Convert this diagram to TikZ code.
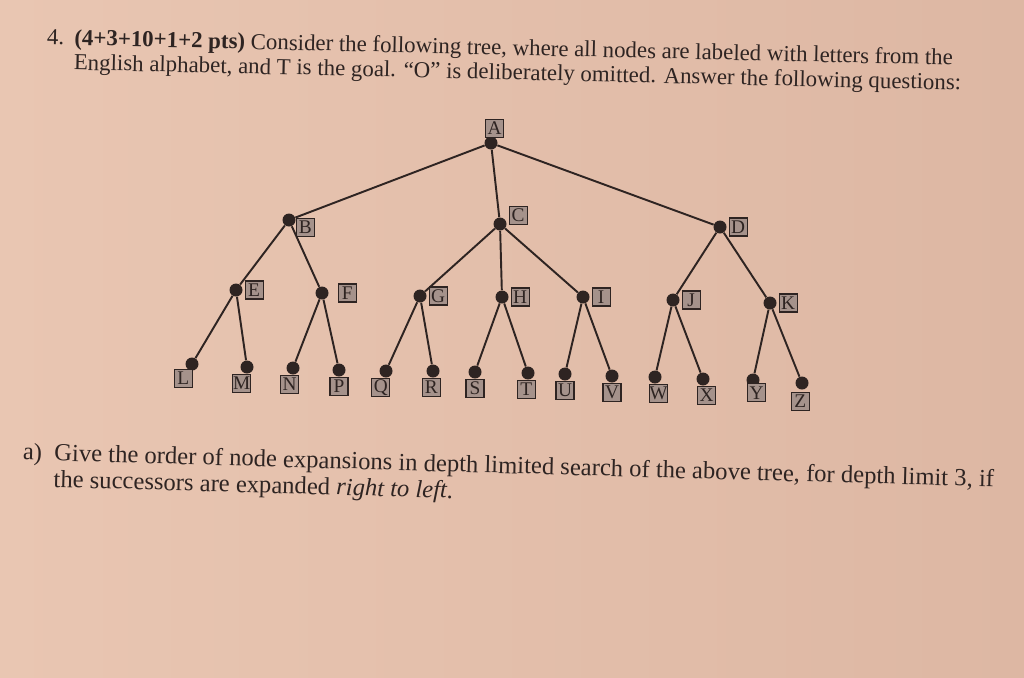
\documentclass[tikz,border=0pt]{standalone}
\usepackage{fontspec}
\setmainfont{Liberation Serif}
\usepackage{xcolor}
\definecolor{ink}{HTML}{2E2422}
\definecolor{lblgray}{HTML}{A5928B}
\definecolor{paperL}{HTML}{E9C6B2}
\definecolor{paperM}{HTML}{EFD6C8}
\definecolor{paperR}{HTML}{DDB7A3}
\usepackage{tikz}
\usetikzlibrary{positioning}

\begin{document}
\begin{tikzpicture}[
        x=0.02cm, y=-0.02cm,
        dot/.style={circle, fill=ink, inner sep=0pt, minimum size=0.26cm},
        lbl/.style={draw=ink, line width=0.6pt, fill=lblgray, inner sep=0pt, minimum size=0.36cm, text=ink, font=\fontsize{11}{11}\selectfont},
        edge/.style={draw=ink, line width=1.1pt},
        para/.style={align=left, text=ink, inner sep=0pt},
    ]

    % === Paper ===
    \shade[left color=paperL, middle color=paperM, right color=paperR] (0,0) rectangle (1024,677);
    \useasboundingbox (0,0) rectangle (1024,677);

    % === Question text ===
    \node[para, anchor=north west, rotate=-1.3, font=\fontsize{13}{14}\selectfont] (question) at (47,27) {
        \begin{tabular}{@{}l@{\hspace{0.45em}}l@{}}
        4. & \textbf{(4+3+10+1+2 pts)} Consider the following tree, where all nodes are labeled with letters from the\\
           & English alphabet, and T is the goal. “O” is deliberately omitted. Answer the following questions:
        \end{tabular}
    };

    % === Level 0 and 1 ===
    \node[dot] (A) at (491,143) {};
    \node[lbl, above=-1pt of A, xshift=2pt] (lA) {A};
    \node[dot] (B) at (289,220) {};
    \node[lbl, right=0pt of B, yshift=-4pt] (lB) {B};
    \node[dot] (C) at (500,224) {};
    \node[lbl, right=1pt of C, yshift=5pt] (lC) {C};
    \node[dot] (D) at (720,227) {};
    \node[lbl, right=1pt of D] (lD) {D};

    % === Level 2 ===
    \node[dot] (E) at (236,290) {};
    \node[lbl, right=1pt of E] (lE) {E};
    \node[dot] (F) at (322,293) {};
    \node[lbl, right=5pt of F] (lF) {F};
    \node[dot] (G) at (420,296) {};
    \node[lbl, right=1pt of G] (lG) {G};
    \node[dot] (H) at (502,297) {};
    \node[lbl, right=1pt of H] (lH) {H};
    \node[dot] (I) at (583,297) {};
    \node[lbl, right=1pt of I] (lI) {I};
    \node[dot] (J) at (673,300) {};
    \node[lbl, right=1pt of J] (lJ) {J};
    \node[dot] (K) at (770,303) {};
    \node[lbl, right=1pt of K] (lK) {K};

    % === Level 3 (leaves) ===
    \node[dot] (L) at (192,364) {};
    \node[lbl, below=-1pt of L, xshift=-5pt] (lL) {L};
    \node[dot] (M) at (247,367) {};
    \node[lbl, below=0pt of M, xshift=-3pt] (lM) {M};
    \node[dot] (N) at (293,368) {};
    \node[lbl, below=0pt of N, xshift=-2pt] (lN) {N};
    \node[dot] (P) at (339,370) {};
    \node[lbl, below=0pt of P] (lP) {P};
    \node[dot] (Q) at (386,371) {};
    \node[lbl, below=0pt of Q, xshift=-3pt] (lQ) {Q};
    \node[dot] (R) at (433,371) {};
    \node[lbl, below=0pt of R, xshift=-1pt] (lR) {R};
    \node[dot] (S) at (475,372) {};
    \node[lbl, below=0pt of S] (lS) {S};
    \node[dot] (T) at (528,373) {};
    \node[lbl, below=0pt of T, xshift=-1pt] (lT) {T};
    \node[dot] (U) at (565,374) {};
    \node[lbl, below=0pt of U] (lU) {U};
    \node[dot] (V) at (612,376) {};
    \node[lbl, below=0pt of V] (lV) {V};
    \node[dot] (W) at (655,377) {};
    \node[lbl, below=0pt of W, xshift=2pt] (lW) {W};
    \node[dot] (X) at (703,379) {};
    \node[lbl, below=0pt of X, xshift=2pt] (lX) {X};
    \node[dot] (Y) at (753,380) {};
    \node[lbl, below=-2pt of Y, xshift=2pt] (lY) {Y};
    \node[dot] (Z) at (802,383) {};
    \node[lbl, below=1pt of Z, xshift=-1pt] (lZ) {Z};

    % === Edges ===
    \foreach \p/\c in {A/B, A/C, A/D, B/E, B/F, C/G, C/H, C/I, D/J, D/K,
                       E/L, E/M, F/N, F/P, G/Q, G/R, H/S, H/T, I/U, I/V,
                       J/W, J/X, K/Y, K/Z}
        \draw[edge] (\p) -- (\c);

    % === Part a ===
    \node[para, anchor=north west, rotate=-1.6, font=\fontsize{14}{15}\selectfont] (parta) at (23,441) {
        \begin{tabular}{@{}l@{\hspace{0.5em}}l@{}}
        a) & Give the order of node expansions in depth limited search of the above tree, for depth limit 3, if\\
           & the successors are expanded \textit{right to left}.
        \end{tabular}
    };

\end{tikzpicture}
\end{document}
